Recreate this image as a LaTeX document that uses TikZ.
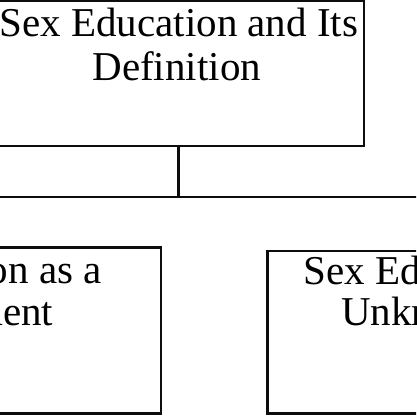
\documentclass[tikz,border=0pt]{standalone}
\usepackage{fontspec}
\setmainfont{Liberation Serif}
\begin{document}
\begin{tikzpicture}[x=1pt,y=-1pt,
  box/.style={draw=black!95, line width=2.4pt, inner sep=0pt},
  txt/.style={inner sep=0pt, font=\fontsize{41}{43}\selectfont, text=black},
  conn/.style={draw=black!95, line width=2.4pt}]
\useasboundingbox (0,0) rectangle (416,416);
\clip (0,0) rectangle (416,416);
\fill[white] (0,0) rectangle (416,416);
% boxes
\node[box, minimum width=371pt, minimum height=145pt] (top) at (178.5,73.5) {};
\node[box, minimum width=427pt, minimum height=166pt] (left) at (-52.5,330.5) {};
\node[box, minimum width=427pt, minimum height=162.5pt] (right) at (481,332.25) {};
% texts
\node[txt, anchor=base west] (t1) at (-0.7,36.7) {Sex Education and Its};
\node[txt, anchor=base west] (t2) at (92.3,80) {Definition};
\node[txt, anchor=base east] (l1) at (102,283.3) {Sex Education as a};
\node[txt, anchor=base east] (l2) at (53.5,325) {Requirement};
\node[txt, anchor=base west] (r1) at (303.5,284) {Sex Education};
\node[txt, anchor=base west] (r2) at (341,325) {Unknown};
% connectors
\coordinate (bus) at (178.5,196.7);
\coordinate (busL) at (-60,196.7);
\coordinate (busR) at (480,196.7);
\draw[conn] (top.south) -- (bus);
\draw[conn] (busL) -- (busR);
\end{tikzpicture}
\end{document}
